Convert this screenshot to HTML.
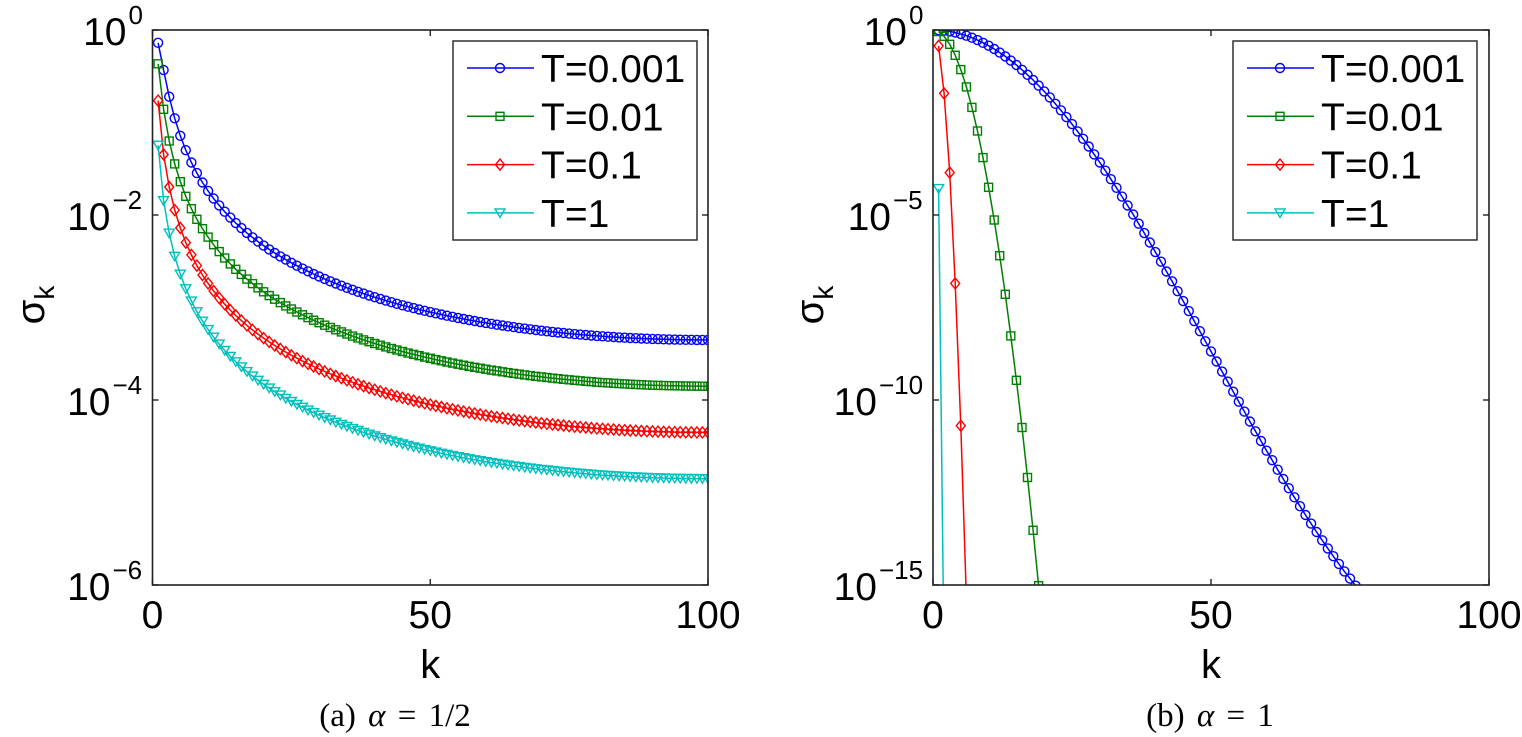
<!DOCTYPE html>
<html><head><meta charset="utf-8"><style>
html,body{margin:0;background:#fff;overflow:hidden;width:1522px;height:737px;}
svg{display:block;}
text{font-family:"Liberation Sans",sans-serif;fill:#000;}
.cap{font-family:"Liberation Serif",serif;}
</style></head><body>
<svg id="s" width="1522" height="737" xmlns="http://www.w3.org/2000/svg"></svg>
<script>
const S=document.getElementById('s');let h='';
function erfcx(z){const t=1/(1+0.5*z);return t*Math.exp(-1.26551223+t*(1.00002368+t*(0.37409196+t*(0.09678418+t*(-0.18628806+t*(0.27886807+t*(-1.13520398+t*(1.48851587+t*(-0.82215223+t*0.17087277)))))))));}
function lam(k){return 4*100*100*Math.pow(Math.sin(k*Math.PI/200),2);}
const Ts=[0.001,0.01,0.1,1],cols=['#0000ff','#008000','#ff0000','#00bfbf'];
const f=v=>(+v).toFixed(1);
function marker(t,x,y,c){
 x=+x;y=+y;
 if(t==0)return `<circle cx="${f(x)}" cy="${f(y)}" r="4.5" fill="none" stroke="${c}" stroke-width="1.4"/>`;
 if(t==1)return `<rect x="${f(x-4)}" y="${f(y-4)}" width="8" height="8" fill="none" stroke="${c}" stroke-width="1.4"/>`;
 if(t==2)return `<path d="M${f(x)} ${f(y-5.5)}L${f(x+4.5)} ${f(y)}L${f(x)} ${f(y+5.5)}L${f(x-4.5)} ${f(y)}Z" fill="none" stroke="${c}" stroke-width="1.4"/>`;
 return `<path d="M${f(x-5)} ${f(y-4)}L${f(x+5)} ${f(y-4)}L${f(x)} ${f(y+4.5)}Z" fill="none" stroke="${c}" stroke-width="1.4"/>`;
}
function panel(x0,x1,yt,yb,decTop,decBot,ticks,fn,cid,legX){
 const sx=k=>x0+(x1-x0)*k/100, sy=l=>yt+(yb-yt)*(decTop-l)/(decTop-decBot);
 h+=`<clipPath id="${cid}"><rect x="${x0}" y="${yt}" width="${x1-x0}" height="${yb-yt}"/></clipPath>`;
 h+=`<g clip-path="url(#${cid})">`;
 Ts.forEach((T,i)=>{let pts=[],mk='';
  for(let k=1;k<=100;k++){const l=fn(k,T);const x=sx(k),y=sy(l);pts.push(f(x)+','+f(y));
   if(y<=yb+1)mk+=marker(i,x,y,cols[i]);
   if(y>yb+50)break;}
  h+=`<polyline points="${pts.join(' ')}" fill="none" stroke="${cols[i]}" stroke-width="1.5"/>`+mk;});
 h+='</g>';
 h+=`<rect x="${x0}" y="${yt}" width="${x1-x0}" height="${yb-yt}" fill="none" stroke="#222" stroke-width="1.6"/>`;
 [0,50,100].forEach(k=>{const x=sx(k);h+=`<line x1="${x}" y1="${yb}" x2="${x}" y2="${yb-6}" stroke="#222" stroke-width="1.4"/><line x1="${x}" y1="${yt}" x2="${x}" y2="${yt+6}" stroke="#222" stroke-width="1.4"/>`;
  h+=`<text x="${x}" y="628" font-size="39" text-anchor="middle">${k}</text>`;});
 ticks.forEach(d=>{const y=sy(d);h+=`<line x1="${x0}" y1="${y}" x2="${x0+6}" y2="${y}" stroke="#222" stroke-width="1.4"/><line x1="${x1}" y1="${y}" x2="${x1-6}" y2="${y}" stroke="#222" stroke-width="1.4"/>`;
  const sup=d==0?'0':'\u2212'+(-d);const sw=d==0?14:(String(-d).length*14+16);
  h+=`<text x="${x0-12-sw}" y="${y+15}" font-size="39" text-anchor="end">10</text><text x="${x0-10-sw}" y="${y-6}" font-size="26">${sup}</text>`;});
 h+=`<text x="${(x0+x1)/2}" y="678" font-size="40" text-anchor="middle">k</text>`;
 h+=`<rect x="${legX}" y="41" width="244" height="199" fill="#fff" stroke="#222" stroke-width="1.4"/>`;
 ['T=0.001','T=0.01','T=0.1','T=1'].forEach((s,i)=>{const y=68+i*48.3;
  h+=`<line x1="${legX+14}" y1="${y}" x2="${legX+81}" y2="${y}" stroke="${cols[i]}" stroke-width="1.5"/>`+marker(i,legX+47,y,cols[i]);
  h+=`<text x="${legX+88}" y="${y+14}" font-size="39">${s}</text>`;});
}
panel(152.5,708,30,585,0,-6,[0,-2,-4,-6],(k,T)=>{const z=lam(k)*Math.sqrt(T);return Math.log10(erfcx(z));},'c1',453);
panel(933,1489,30,585,0,-15,[0,-5,-10,-15],(k,T)=>-lam(k)*T/Math.LN10,'c2',1233);
h+=`<text transform="translate(44,305) rotate(-90)" font-size="40" text-anchor="middle">σ<tspan font-size="28" dy="10">k</tspan></text>`;
h+=`<text transform="translate(823,305) rotate(-90)" font-size="40" text-anchor="middle">σ<tspan font-size="28" dy="10">k</tspan></text>`;
h+=`<text class="cap" x="395" y="726" font-size="33" text-anchor="middle" word-spacing="4">(a) <tspan font-style="italic">α</tspan> = 1/2</text>`;
h+=`<text class="cap" x="1210" y="726" font-size="33" text-anchor="middle" word-spacing="4">(b) <tspan font-style="italic">α</tspan> = 1</text>`;
S.innerHTML=h;
</script>
</body></html>
